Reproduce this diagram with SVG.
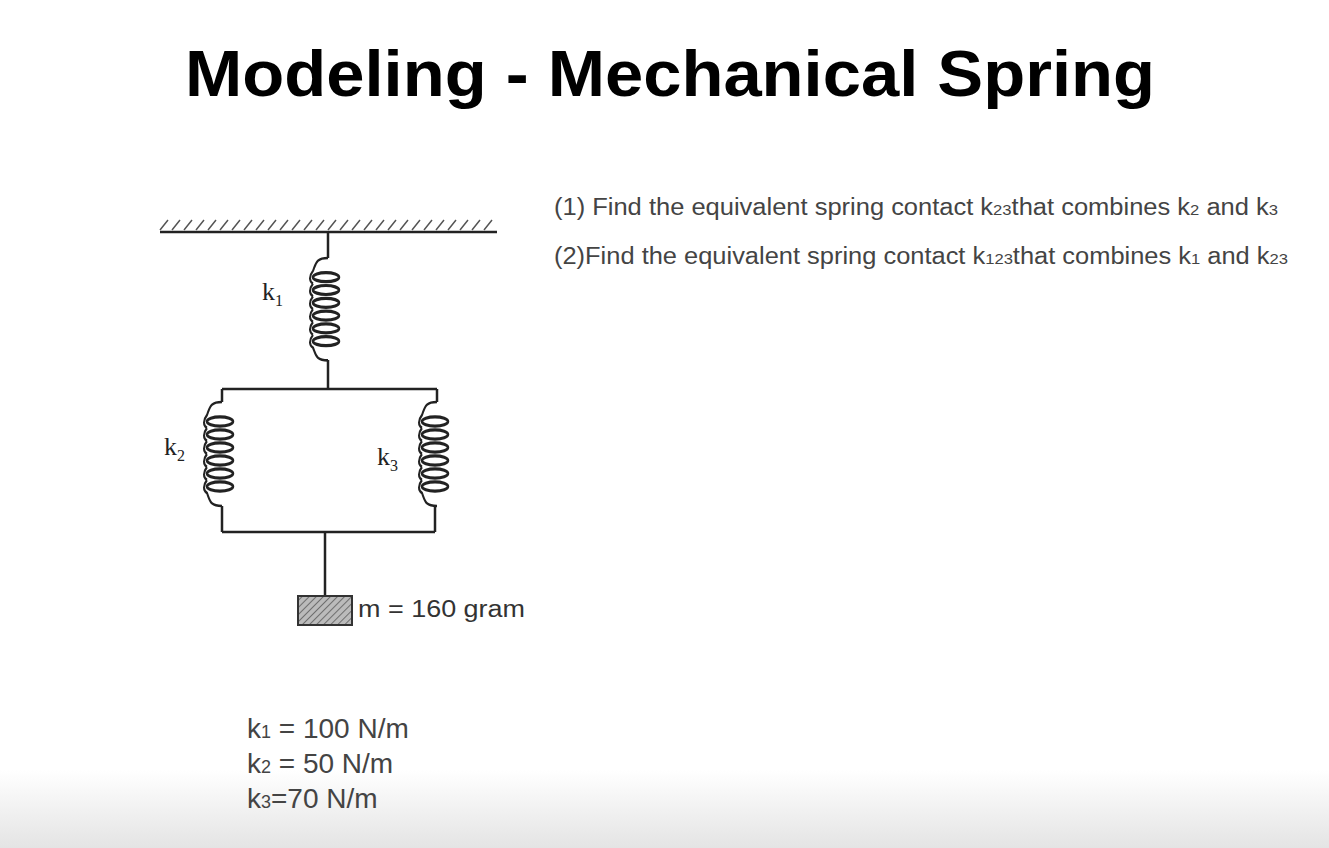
<svg xmlns="http://www.w3.org/2000/svg" width="1329" height="848" viewBox="0 0 1329 848">
<defs>
<linearGradient id="bg" x1="0" y1="0" x2="0" y2="1"><stop offset="0" stop-color="#fff"/><stop offset="1" stop-color="#e4e4e4"/></linearGradient>
<pattern id="hatch" width="5" height="5" patternUnits="userSpaceOnUse" patternTransform="rotate(45)"><rect width="5" height="5" fill="#bbb"/><line x1="0" y1="0" x2="0" y2="5" stroke="#555" stroke-width="1.5"/></pattern>
<g id="coil">
<path d="M0,0 C-12,0 -12,4 -15,10 C-19,14 -19,18 -15,20 M-15,20 C-19,24 -19,28 -15,30 M-15,30 C-19,34 -19,38 -15,40 M-15,40 C-19,44 -19,48 -15,50 M-15,50 C-19,54 -19,58 -15,60 M-15,60 C-19,64 -19,68 -15,70 C-12,76 -12,80 0,80" fill="none" stroke="#222" stroke-width="2"/>
<g fill="none" stroke="#222" stroke-width="2.5">
<ellipse cx="-2" cy="15" rx="13" ry="3.5"/><ellipse cx="-2" cy="25" rx="13" ry="3.5"/><ellipse cx="-2" cy="35" rx="13" ry="3.5"/><ellipse cx="-2" cy="45" rx="13" ry="3.5"/><ellipse cx="-2" cy="55" rx="13" ry="3.5"/><ellipse cx="-2" cy="65" rx="13" ry="3.5"/>
</g>
</g>
</defs>
<style>
.t{font-family:"Liberation Sans",Arial,sans-serif;fill:#444}
.k{font-family:"Liberation Serif","Times New Roman",serif;fill:#222;font-size:26px}
.w{stroke:#222;stroke-width:2.5;fill:none}
</style>
<rect width="1329" height="848" fill="#fff"/>
<rect y="770" width="1329" height="78" fill="url(#bg)"/>
<text x="185" y="96" textLength="970" lengthAdjust="spacingAndGlyphs" font-family="Liberation Sans,Arial,sans-serif" font-weight="bold" font-size="64" fill="#000">Modeling - Mechanical Spring</text>

<g id="ceiling">
<line class="w" x1="160" y1="232" x2="497" y2="232"/>
<path d="M160,230 l8,-10 M172,230 l8,-10 M184,230 l8,-10 M196,230 l8,-10 M208,230 l8,-10 M220,230 l8,-10 M232,230 l8,-10 M244,230 l8,-10 M256,230 l8,-10 M268,230 l8,-10 M280,230 l8,-10 M292,230 l8,-10 M304,230 l8,-10 M316,230 l8,-10 M328,230 l8,-10 M340,230 l8,-10 M352,230 l8,-10 M364,230 l8,-10 M376,230 l8,-10 M388,230 l8,-10 M400,230 l8,-10 M412,230 l8,-10 M424,230 l8,-10 M436,230 l8,-10 M448,230 l8,-10 M460,230 l8,-10 M472,230 l8,-10 M484,230 l8,-10" stroke="#555" stroke-width="1.5"/>
</g>

<g id="connectors">
<line class="w" x1="328" y1="232" x2="328" y2="258"/>
<line class="w" x1="328" y1="360" x2="328" y2="389"/>
<line class="w" x1="222" y1="389" x2="437" y2="389"/>
<line class="w" x1="222" y1="389" x2="222" y2="402"/>
<line class="w" x1="437" y1="389" x2="437" y2="402"/>
<line class="w" x1="222" y1="506" x2="222" y2="532"/>
<line class="w" x1="435" y1="506" x2="435" y2="532"/>
<line class="w" x1="222" y1="532" x2="435" y2="532"/>
<line class="w" x1="325" y1="532" x2="325" y2="596"/>
</g>

<g id="k1"><use href="#coil" transform="translate(328,258) scale(1,1.28)"/><text class="k" x="262" y="300">k<tspan font-size="16" dy="6">1</tspan></text></g>
<g id="k2"><use href="#coil" transform="translate(222,402) scale(1,1.3)"/><text class="k" x="164" y="455">k<tspan font-size="16" dy="6">2</tspan></text></g>
<g id="k3"><use href="#coil" transform="translate(437,402) scale(1,1.3)"/><text class="k" x="377" y="465">k<tspan font-size="16" dy="6">3</tspan></text></g>

<g id="mass">
<rect x="298" y="596" width="54" height="29" fill="url(#hatch)" stroke="#333" stroke-width="2"/>
<text x="358" y="617" textLength="167" lengthAdjust="spacingAndGlyphs" font-family="Liberation Sans,Arial,sans-serif" font-size="23" fill="#333">m = 160 gram</text>
</g>

<g id="questions" class="t" font-size="23">
<text x="554" y="215" textLength="724" lengthAdjust="spacingAndGlyphs">(1) Find the equivalent spring contact k<tspan font-size="15">23</tspan>that combines k<tspan font-size="15">2</tspan> and k<tspan font-size="15">3</tspan></text>
<text x="554" y="264" textLength="734" lengthAdjust="spacingAndGlyphs">(2)Find the equivalent spring contact k<tspan font-size="15">123</tspan>that combines k<tspan font-size="15">1</tspan> and k<tspan font-size="15">23</tspan></text>
</g>

<g id="values" class="t" font-size="28">
<text x="247" y="738">k<tspan font-size="18">1</tspan> = 100 N/m</text>
<text x="247" y="773">k<tspan font-size="18">2</tspan> = 50 N/m</text>
<text x="247" y="808">k<tspan font-size="18">3</tspan>=70 N/m</text>
</g>
</svg>
